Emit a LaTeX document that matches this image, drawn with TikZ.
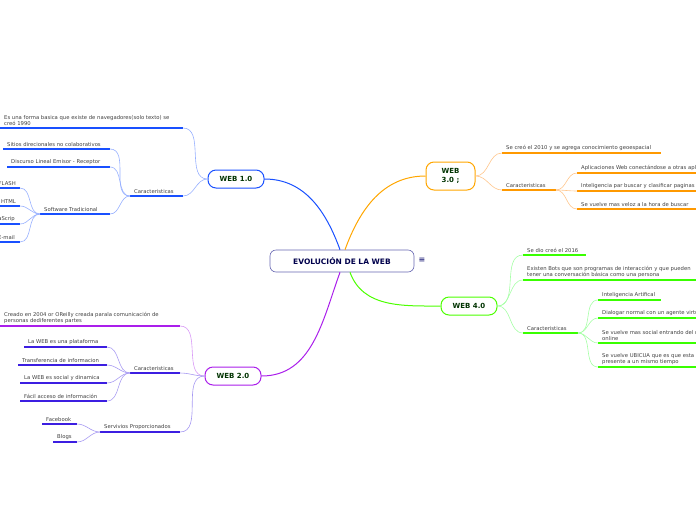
\documentclass[tikz,border=0pt]{standalone}
\usepackage{fontspec}
\setmainfont{DejaVu Sans}
\definecolor{pur}{RGB}{170,30,235}
\definecolor{pblue}{RGB}{60,30,225}
\definecolor{bblue}{RGB}{25,80,255}
\begin{document}
\begin{tikzpicture}[x=1pt,y=-1pt,
  lbl/.style={font=\fontsize{5.3}{6.2}\selectfont, text=black!75, inner sep=0pt, align=left},
  topic/.style={draw, rounded corners=8pt, line width=1pt, font=\bfseries\fontsize{7}{8.5}\selectfont, text=green!20!black, fill=white, align=center},
  c1/.style={draw=bblue!45!white, line width=0.6pt},
  c2/.style={draw=pblue!45!white, line width=0.6pt},
  c3/.style={draw=orange!45!white, line width=0.6pt},
  c4/.style={draw=green!35!white, line width=0.6pt},
  u1/.style={draw=bblue, line width=1.3pt},
  u2/.style={draw=pur, line width=1.3pt},
  u2b/.style={draw=pblue, line width=1.3pt},
  u3/.style={draw=orange!80!yellow, line width=1.3pt},
  u4/.style={draw=green!70!lime, line width=1.3pt}]
\useasboundingbox (0,0) rectangle (696,520);
\newcommand{\leaf}[6]{% name, x1, x2, y, text, style
  \draw[#6] (#2,#4) coordinate (#1L) -- (#3,#4) coordinate (#1R);
  \node[lbl, anchor=south west] (#1) at (#2+4,#4-2.5) {#5};}
% central
\node[topic, draw=blue!50!black!60, line width=0.6pt, rounded corners=6pt, minimum width=144pt, minimum height=22pt, font=\bfseries\fontsize{7.5}{9}\selectfont, text=blue!30!black] (c) at (342,261) {EVOLUCIÓN DE LA WEB};
\node[font=\fontsize{8}{8}\selectfont, text=blue!40!black] (menu) at (422,260) {≡};
% topics
\node[topic, draw=bblue, minimum width=56pt, minimum height=18pt] (w1) at (236,179) {WEB 1.0};
\node[topic, draw=pur, minimum width=56pt, minimum height=18pt] (w2) at (233,376) {WEB 2.0};
\node[topic, draw=orange!70!yellow, minimum width=49pt, minimum height=28pt] (w3) at (450.5,176) {WEB\\3.0 ;};
\node[topic, draw=green!60!lime, minimum width=56pt, minimum height=18pt] (w4) at (469,306) {WEB 4.0};
\draw[draw=bblue, line width=1pt] (c.north) ++(-2,0) to[out=110,in=0] (w1.east);
\draw[draw=pur, line width=1pt] (c.south) ++(-2,0) to[out=-110,in=0] (w2.east);
\draw[draw=orange!70!yellow, line width=1pt] (c.north) ++(3,0) to[out=70,in=180] (w3.west);
\draw[draw=green!60!lime, line width=1pt] (c.south) ++(8,0) to[out=-70,in=180] (w4.west);
% WEB 1.0
\leaf{a1}{0}{183}{128}{Es una forma basica que existe de navegadores(solo texto) se\\creó 1990}{u1}
\leaf{a2}{130}{183}{196}{Caracteristicas}{u1}
\draw[c1] (w1.west) to[out=180,in=0] (a1R);
\draw[c1] (w1.west) to[out=180,in=0] (a2R);
\leaf{a3}{3}{110}{149}{Sitios direcionales no colaborativos}{u1}
\leaf{a4}{7}{110}{167}{Discurso Lineal Emisor - Receptor}{u1}
\leaf{a5}{40}{110}{214}{Software Tradicional}{u1}
\foreach \n in {a3,a4,a5} \draw[c1] (a2L) to[out=180,in=0] (\n R);
\draw[u1] (0,188) -- (20,188) coordinate (f1);
\draw[u1] (0,206) -- (20,206) coordinate (f2);
\draw[u1] (0,224) -- (20,224) coordinate (f3);
\draw[u1] (0,242) -- (20,242) coordinate (f4);
\node[lbl,anchor=south east] (t1) at (16,185.5) {FLASH};
\node[lbl,anchor=south east] (t2) at (16,203.5) {HTML};
\node[lbl,anchor=south east] (t3) at (15,221.5) {JavaScrip};
\node[lbl,anchor=south east] (t4) at (15,239.5) {E-mail};
\foreach \n in {f1,f2,f3,f4} \draw[c1] (a5L) to[out=180,in=0] (\n);
% WEB 2.0
\leaf{b1}{0}{180}{326}{Creado en 2004 or OReilly creada parala comunicación de\\personas dediferentes partes}{u2}
\leaf{b2}{130}{180}{373}{Caracteristicas}{u2b}
\leaf{b3}{100}{180}{432}{Servivios Proporcionados}{u2b}
\draw[draw=pur!45!white, line width=0.6pt] (w2.west) to[out=180,in=0] (b1R);
\foreach \n in {b2,b3} \draw[c2] (w2.west) to[out=180,in=0] (\n R);
\leaf{b4}{24}{107}{347}{La WEB es una plataforma}{u2b}
\leaf{b5}{18}{107}{365}{Transferencia de informacion}{u2b}
\leaf{b6}{20}{107}{383}{La WEB es social y dinamica}{u2b}
\leaf{b7}{20}{107}{401}{Fácil  acceso de información}{u2b}
\foreach \n in {b4,b5,b6,b7} \draw[c2] (b2L) to[out=180,in=0] (\n R);
\leaf{b8}{42}{77}{424}{Facebook}{u2b}
\leaf{b9}{53}{77}{442}{Blogs}{u2b}
\foreach \n in {b8,b9} \draw[c2] (b3L) to[out=180,in=0] (\n R);
% WEB 3.0
\leaf{d1}{502}{661}{153}{Se creó el 2010 y se agrega conocimiento geoespacial}{u3}
\leaf{d2}{502}{556}{190}{Caracteristicas}{u3}
\foreach \n in {d1,d2} \draw[c3] (w3.east) to[out=0,in=180] (\n L);
\leaf{d3}{577}{700}{173}{Aplicaciones Web conectándose a otras aplicaciones}{u3}
\leaf{d4}{577}{700}{191}{Inteligencia par buscar y clasificar paginas}{u3}
\leaf{d5}{577}{700}{209}{Se vuelve mas veloz a la hora de buscar}{u3}
\foreach \n in {d3,d4,d5} \draw[c3] (d2R) to[out=0,in=180] (\n L);
% WEB 4.0
\leaf{e1}{523}{586}{255}{Se dio creó el 2016}{u4}
\leaf{e2}{523}{700}{280}{Existen Bots que son programas de interacción y que pueden\\tener una conversación básica como una persona}{u4}
\leaf{e3}{523}{578}{333}{Caracteristicas}{u4}
\foreach \n in {e1,e2,e3} \draw[c4] (w4.east) to[out=0,in=180] (\n L);
\leaf{e4}{598}{661}{300}{Inteligencia Artifical}{u4}
\leaf{e5}{598}{700}{318}{Dialogar normal con un agente virtual}{u4}
\leaf{e6}{598}{700}{343}{Se vuelve mas social entrando del mundo\\online}{u4}
\leaf{e7}{598}{700}{367}{Se vuelve UBICUA que es que esta\\presente a un mismo tiempo}{u4}
\foreach \n in {e4,e5,e6,e7} \draw[c4] (e3R) to[out=0,in=180] (\n L);
\end{tikzpicture}
\end{document}
